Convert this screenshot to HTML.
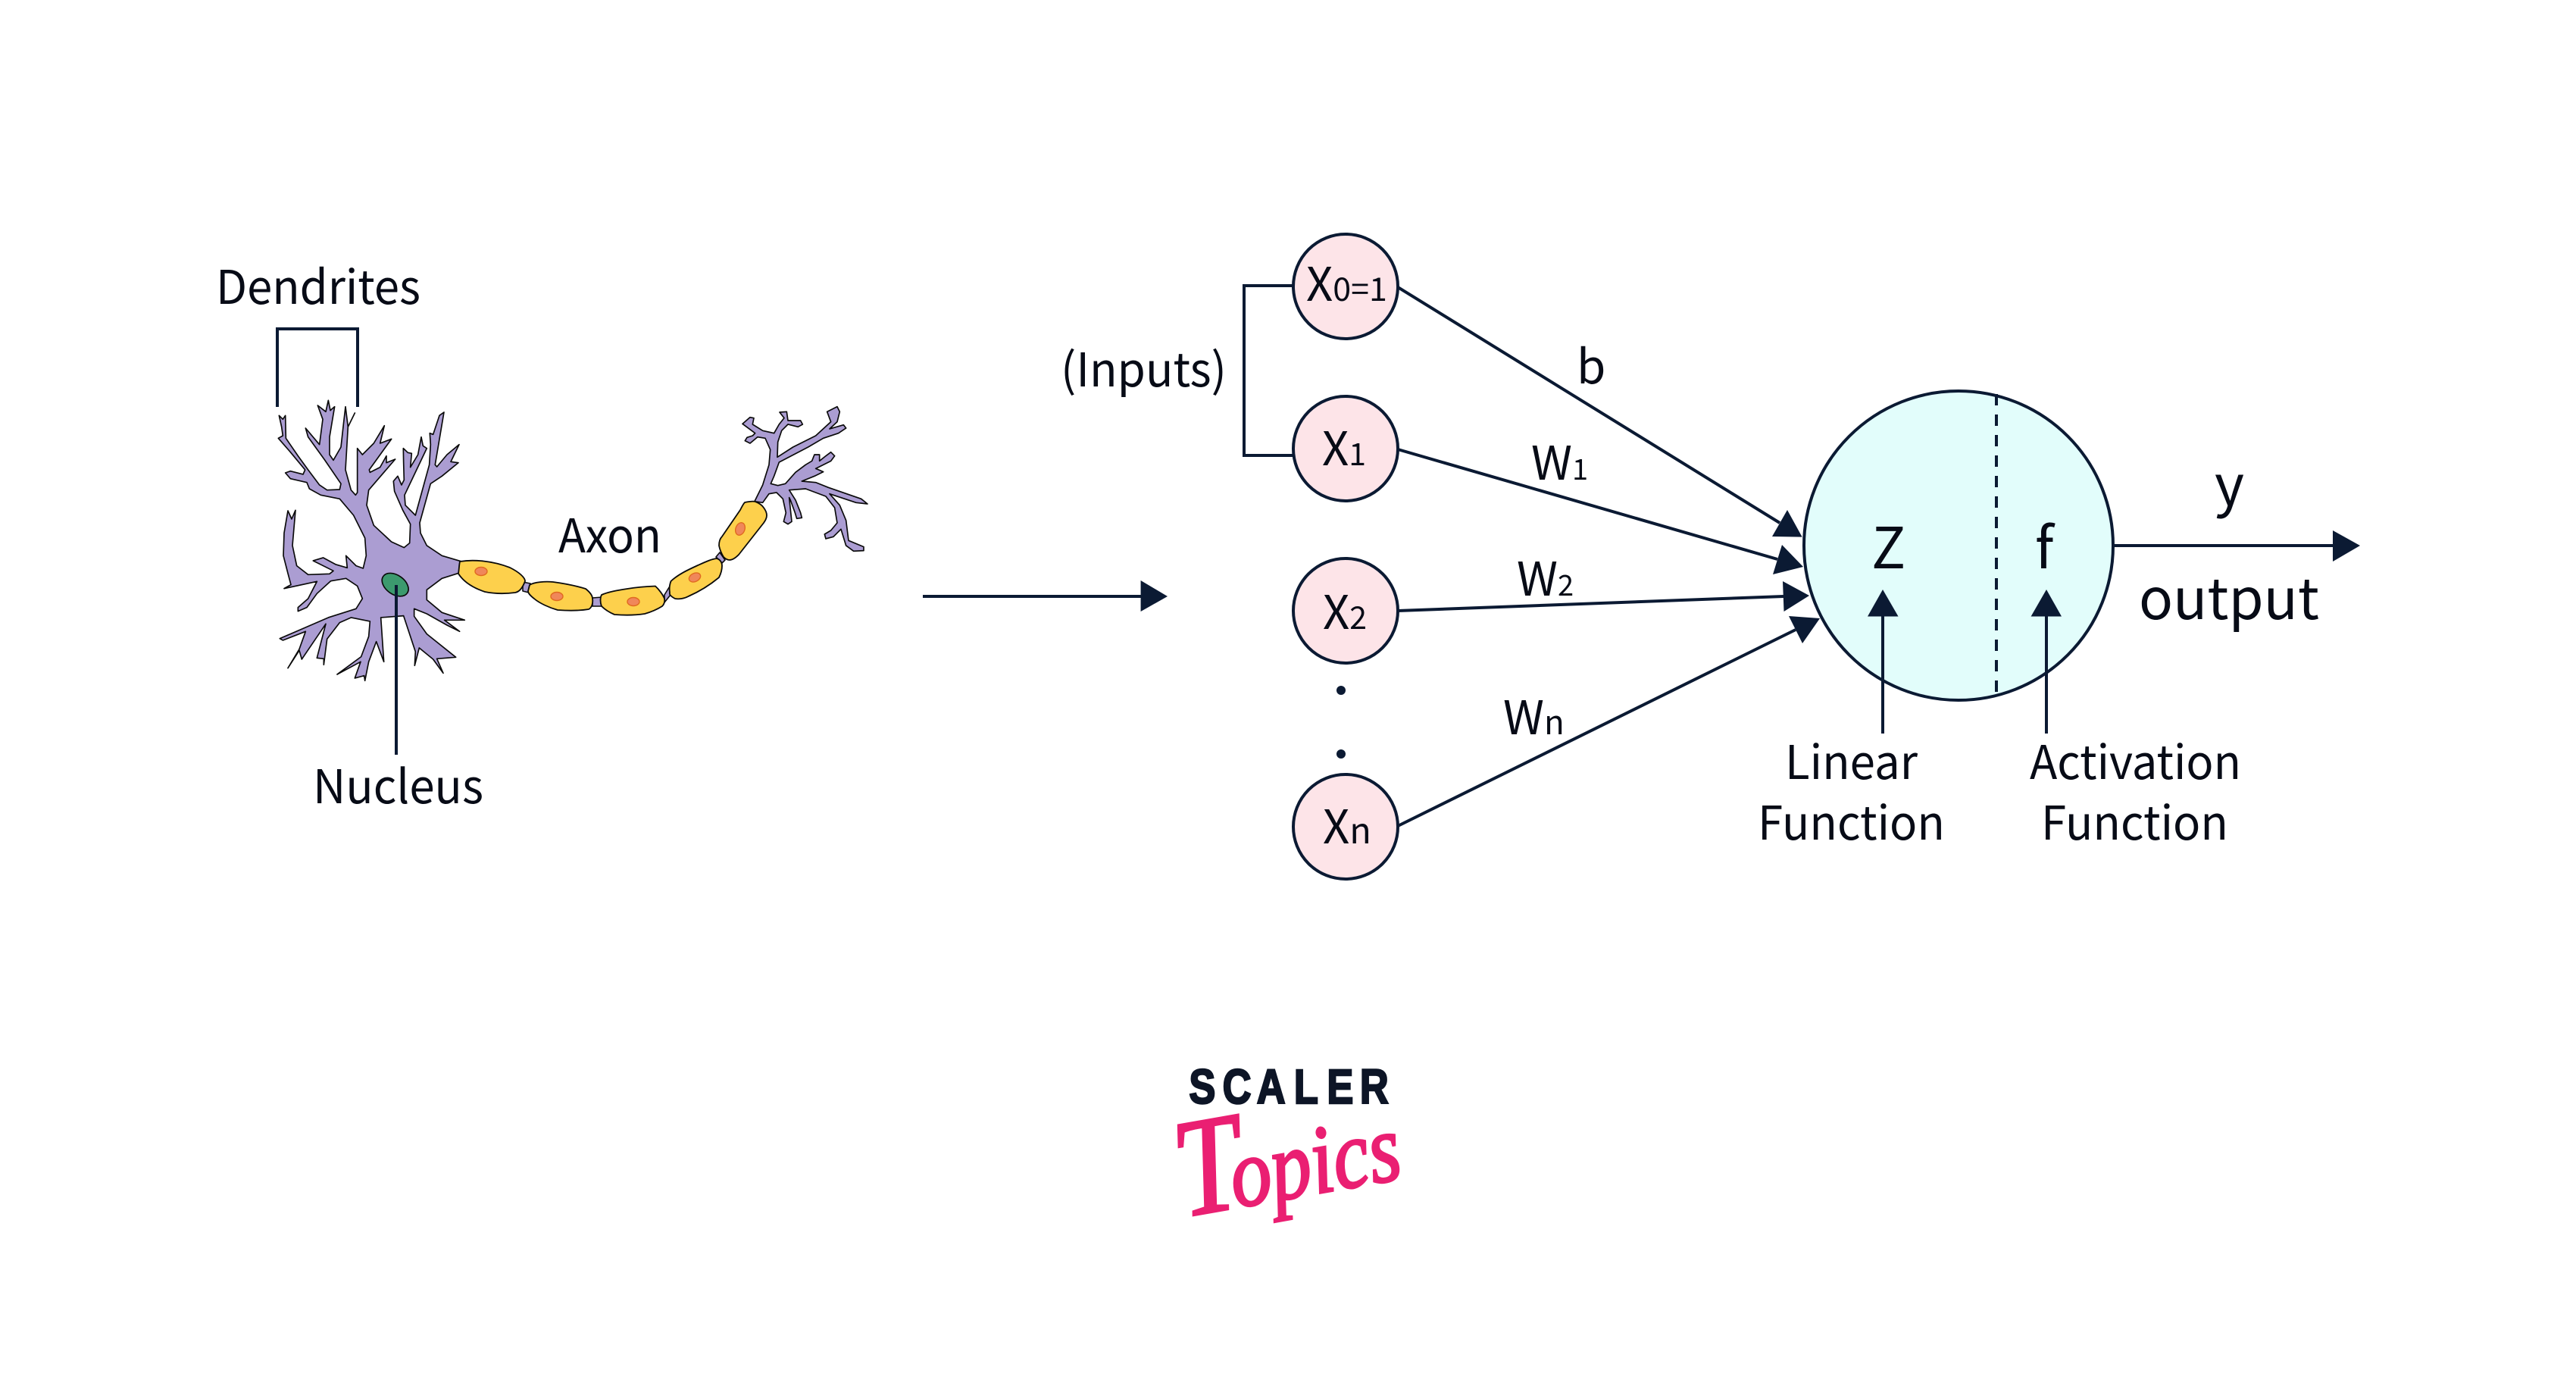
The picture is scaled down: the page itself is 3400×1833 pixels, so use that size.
<!DOCTYPE html>
<html><head><meta charset="utf-8"><style>
html,body{margin:0;padding:0;background:#fff}
svg{display:block}
text{font-family:"Noto Sans CJK JP","Liberation Sans",sans-serif;fill:#070b16}
</style></head><body>
<svg width="3400" height="1833" viewBox="0 0 3400 1833" xmlns="http://www.w3.org/2000/svg">
<rect width="3400" height="1833" fill="#fff"/>
<!-- neuron -->
<g stroke="#0a0a0a" stroke-linejoin="round">
<g transform="translate(350,520) scale(.3333)" stroke-width="5" fill="#ab9dd2">
<path d="M775 662 L700 640 L640 600 L615 550 L612 510 L655 355 L700 325 L765 272 L735 268 L768 200 L720 240 L680 288 L673 280 L708 72 L690 85 L665 160 L652 155 L655 200 L650 280 L595 480 L555 440 L552 400 L640 215 L625 205 L618 170 L605 240 L575 290 L580 235 L565 232 L547 215 L548 270 L550 340 L540 360 L525 325 L508 345 L512 385 L545 460 L575 515 L572 590 L550 608 L500 585 L430 520 L402 440 L410 380 L515 258 L480 272 L480 245 L455 290 L415 310 L412 300 L500 178 L455 195 L472 125 L430 195 L385 240 L365 215 L365 390 L358 400 L340 380 L318 300 L328 130 L355 75 L328 130 L318 50 L310 120 L300 210 L270 262 L255 240 L255 170 L275 50 L258 65 L250 25 L240 70 L208 45 L228 100 L215 200 L160 135 L170 170 L235 260 L300 355 L295 378 L245 380 L215 360 L170 300 L130 245 L82 175 L80 85 L70 100 L55 85 L65 130 L70 165 L52 175 L100 230 L158 300 L150 318 L100 305 L80 312 L100 335 L165 350 L175 375 L220 400 L295 415 L350 480 L395 570 L400 640 L388 690 L360 680 L320 640 L325 688 L280 675 L230 648 L190 660 L270 700 L255 712 L170 715 L125 680 L108 600 L120 460 L105 495 L90 462 L75 550 L72 640 L90 710 L102 755 L75 770 L205 742 L170 810 L130 845 L130 860 L165 845 L205 790 L260 740 L320 730 L365 760 L385 810 L360 850 L250 885 L100 950 L58 968 L70 975 L160 940 L135 1010 L90 1085 L135 1015 L145 1050 L240 910 L205 1045 L232 1048 L232 1072 L245 970 L295 905 L340 885 L415 900 L410 960 L380 1040 L285 1110 L378 1060 L355 1125 L392 1115 L395 1135 L410 1060 L440 980 L470 1060 L458 885 L548 878 L595 1020 L592 1075 L610 1005 L665 1050 L705 1105 L680 1048 L755 1042 L640 950 L590 880 L590 850 L640 870 L720 915 L770 940 L710 895 L790 895 L700 865 L640 815 L640 775 L700 730 L770 708 Z"/>
<ellipse cx="515" cy="755" rx="58" ry="38" transform="rotate(35 515 755)" fill="#3c9a6e"/>
</g>
<g transform="translate(900,500) scale(.3333)" stroke-width="5" fill="#ab9dd2">
<path d="M288 485 L320 420 L345 340 L350 280 L330 235 L300 230 L270 255 L250 245 L258 232 L280 225 L290 215 L240 178 L270 152 L285 155 L280 180 L320 205 L365 215 L385 180 L405 155 L387 132 L415 130 L420 165 L470 165 L478 180 L460 190 L420 180 L395 205 L380 250 L378 310 L440 270 L530 225 L590 170 L575 130 L615 110 L625 130 L615 170 L585 198 L640 182 L650 195 L620 215 L560 235 L500 270 L385 330 L365 385 L352 415 L380 422 L410 415 L450 370 L490 340 L515 325 L525 300 L545 300 L545 325 L570 305 L590 290 L605 305 L590 325 L530 355 L560 368 L525 385 L475 405 L530 410 L580 430 L710 475 L735 495 L690 490 L585 455 L625 500 L650 560 L660 640 L720 665 L720 680 L680 682 L650 660 L630 595 L600 625 L570 633 L565 615 L590 600 L615 570 L605 510 L570 465 L490 435 L425 440 L450 480 L470 530 L475 550 L455 553 L448 530 L430 480 L425 470 L435 565 L420 575 L403 565 L412 530 L400 475 L375 450 L345 455 L320 490 Z"/>
</g>
<g stroke-width="1.6" fill="#ab9dd2">
<path d="M690 768 L700 770 L698 782 L690 780 Z"/>
<path d="M782 789 L795 788 L795 800 L782 800 Z"/>
<path d="M877 785 L885 772 L885 785 L877 795 Z"/>
<path d="M945 735 L950 729 L957 739 L953 743 Z"/>
</g>
<g stroke-width="1.8" fill="#fdd04c">
<path d="M607 741 C625 738 650 740 673 749 C685 755 693 762 693 767 C690 775 686 781 680 782 C665 784 650 783 640 781 C625 776 612 768 605 757 C606 750 606 745 607 741Z"/>
<path d="M699 772 C705 768 720 767 730 768 C745 770 760 773 773 777 C778 781 782 786 782 790 C783 796 781 802 777 804 C765 806 750 806 736 805 C725 802 712 796 705 790 C700 786 697 783 697 780 Z"/>
<path d="M794 785 C803 781 815 779 828 777 C840 775 852 774 865 773.5 C870 778 875 785 877 790 C878 795 876 798 874 800 C866 805 858 808 851 810 C838 812 824 812 811 811 C804 808 798 804 794 800 C792 795 792 789 794 785Z"/>
<path d="M885.5 767 C895 758 908 752 920 746.5 C930 742 938 738 946 737 C950 738 953 742 953 746.5 C953 752 951 758 949 762 C937 772 922 781 908.5 787 C903 790 896 791 891 790 C887 788 883 785 884 782 C883 776 884 771 885.5 767Z"/>
<path d="M983 663 C988 662 993 661 997 662 C1002 664 1006 667 1008 670 C1011 674 1012 677 1012 680 C1012 684 1010 687 1008 690 L975 732 C971 736 967 739 963 739 C960 739 957 737 955 735 C952 730 950 725 949 720 C949 715 950 711 953 708 L977 673 C979 669 981 665 983 663Z"/>
</g>
<g stroke="#e06a20" stroke-width="1.4" fill="#f0875a">
<ellipse cx="635" cy="754" rx="8" ry="5.5"/>
<ellipse cx="735" cy="787" rx="8" ry="5.5"/>
<ellipse cx="836" cy="794" rx="8" ry="5.5"/>
<ellipse cx="917" cy="762" rx="8" ry="5.5" transform="rotate(-25 917 762)"/>
<ellipse cx="977" cy="698" rx="6" ry="8.5" transform="rotate(20 977 698)"/>
</g>
</g>
<g fill="none" stroke="#0b1a33" stroke-width="4">
<path d="M366 537 V434 H472 V537"/>
<path d="M523 772 V996"/>
<path d="M1707 377 H1642 V601 H1707"/>
<path d="M1218 787 H1510"/>
<path d="M1845 379 L2349 690"/>
<path d="M1845 593 L2346 738"/>
<path d="M1845 806 L2354 787"/>
<path d="M1845 1090 L2370 831"/>
</g>
<path d="M1505.6 766 L1541 787 L1505.6 807 Z" fill="#0b1a33"/>
<g fill="#fde4e8" stroke="#0b1a33" stroke-width="4">
<circle cx="1776" cy="378" r="69"/>
<circle cx="1776" cy="592" r="69"/>
<circle cx="1776" cy="806" r="69"/>
<circle cx="1776" cy="1091" r="69"/>
</g>
<circle cx="1770" cy="911" r="6" fill="#0b1a33"/>
<circle cx="1770" cy="995" r="6" fill="#0b1a33"/>
<ellipse cx="2585" cy="720" rx="204" ry="204" fill="#e2fdfb" stroke="#0b1a33" stroke-width="4"/>
<path d="M2635 520 V918" stroke="#0b1a33" stroke-width="4" stroke-dasharray="15 12" fill="none"/>
<g fill="#0b1a33">
<path d="M2359 673 L2378.6 708.6 L2339 708 Z"/>
<path d="M2352 719 L2380 748 L2340 758 Z"/>
<path d="M2353 767 L2388 786 L2354.5 807 Z"/>
<path d="M2361 813 L2402 816 L2379 849 Z"/>
<path d="M2465 813.5 L2485 778 L2505.5 813.5 Z"/>
<path d="M2680.6 813.5 L2701 778 L2721 813.5 Z"/>
<path d="M3079 700 L3115 720 L3079 741 Z"/>
</g>
<g fill="none" stroke="#0b1a33" stroke-width="4">
<path d="M2485 968 V810"/>
<path d="M2701 968 V810"/>
<path d="M2789 720 H3085"/>
</g>
<!-- labels -->
<g font-size="61.5">
<text x="285" y="401" textLength="270" lengthAdjust="spacingAndGlyphs">Dendrites</text>
<text x="413" y="1060" textLength="225" lengthAdjust="spacingAndGlyphs">Nucleus</text>
<text x="737" y="729" textLength="136" lengthAdjust="spacingAndGlyphs">Axon</text>
<text x="1400" y="510" textLength="219" lengthAdjust="spacingAndGlyphs">(Inputs)</text>
<text x="2081" y="506" font-size="62">b</text>
<text x="1724" y="397">X<tspan font-size="43">0=1</tspan></text>
<text x="1745" y="614">X<tspan font-size="41">1</tspan></text>
<text x="1746" y="830">X<tspan font-size="41">2</tspan></text>
<text x="1746" y="1113">X<tspan font-size="47">n</tspan></text>
<text x="2021" y="633">W<tspan font-size="38">1</tspan></text>
<text x="2002" y="786">W<tspan font-size="38">2</tspan></text>
<text x="1984" y="969">W<tspan font-size="44">n</tspan></text>
<text x="2356" y="1028" textLength="175" lengthAdjust="spacingAndGlyphs">Linear</text>
<text x="2320" y="1108" textLength="247" lengthAdjust="spacingAndGlyphs">Function</text>
<text x="2679" y="1028" textLength="279" lengthAdjust="spacingAndGlyphs">Activation</text>
<text x="2694" y="1108" textLength="247" lengthAdjust="spacingAndGlyphs">Function</text>
</g>
<g font-size="75">
<text x="2470" y="750">Z</text>
<text x="2686" y="750">f</text>
<text x="2923" y="667">y</text>
<text x="2823" y="817" textLength="238" lengthAdjust="spacingAndGlyphs">output</text>
</g>
<!-- logo -->
<text transform="translate(1571,1456) scale(.82,1)" x="-2 52 107 167 220 273" y="0" style="font-family:'Liberation Sans',sans-serif;font-weight:700;font-size:64px;fill:#0d1526;stroke:#0d1526;stroke-width:2.5">SCALER</text>
<g transform="translate(1562,1606) rotate(-10) scale(.88,1.05)">
<text x="0" y="0" style="font-family:'Liberation Serif',serif;font-style:italic;font-size:175px;fill:#ea1f72;stroke:#ea1f72;stroke-width:3">T<tspan font-size="122" dx="-18">opics</tspan></text>
</g>
</svg>
</body></html>
